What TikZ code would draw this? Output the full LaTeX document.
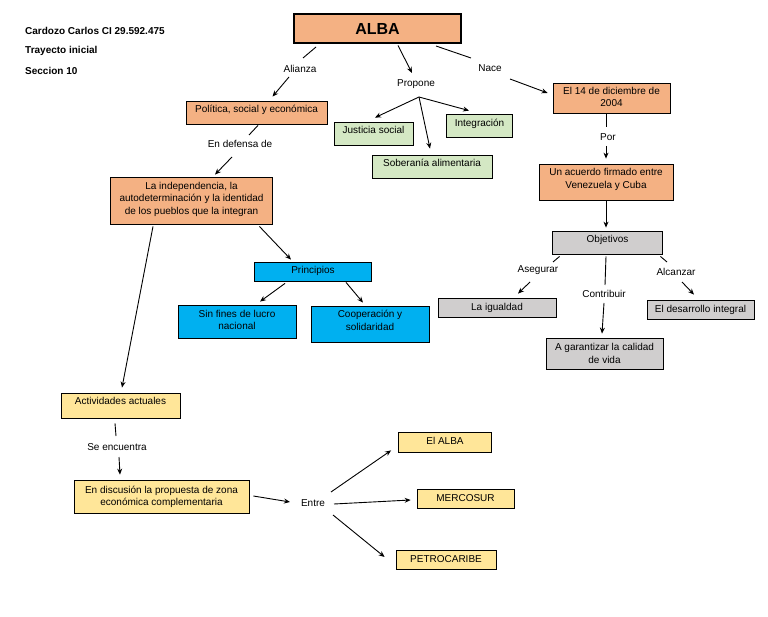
\documentclass[tikz,border=0pt]{standalone}
\usepackage{fontspec}
\setmainfont{Liberation Sans}
\usetikzlibrary{arrows.meta,calc}
\definecolor{corange}{RGB}{244,177,131}
\definecolor{cgreen}{RGB}{212,232,196}
\definecolor{cblue}{RGB}{0,176,240}
\definecolor{cgray}{RGB}{208,206,206}
\definecolor{cyellow}{RGB}{255,230,153}
\begin{document}
\begin{tikzpicture}[x=1pt,y=-1pt,
  box/.style={draw=black, line width=0.8pt, align=center, inner sep=0pt,
    font=\fontsize{10}{12.5}\selectfont},
  ob/.style={box, fill=corange},
  gb/.style={box, fill=cgreen},
  bb/.style={box, fill=cblue},
  yb/.style={box, fill=cyellow},
  gyb/.style={box, fill=cgray},
  lbl/.style={font=\fontsize{10}{12}\selectfont, inner sep=1pt},
  hdr/.style={font=\bfseries\fontsize{10}{12}\selectfont, inner sep=0pt, anchor=west},
  conn/.style={line width=0.9pt, black},
  arr/.style={conn, -{Stealth[length=6pt,width=5pt]}}
]
\useasboundingbox[fill=white] (0,0) rectangle (768,617);

% header
\node[hdr] (h1) at (25,31) {Cardozo Carlos CI 29.592.475};
\node[hdr] (h2) at (25,51) {Trayecto inicial};
\node[hdr] (h3) at (25,71) {Seccion 10};

% boxes
\node[ob, line width=2pt, minimum width=167pt, minimum height=29pt,
  font=\bfseries\fontsize{16}{18}\selectfont, text depth=0pt] (alba) at (377.5,29) {ALBA};
\node[ob, minimum width=141pt, minimum height=23pt, text depth=7.7pt] (pol) at (256.5,112.5) {Política, social y económica};
\node[gb, minimum width=79pt, minimum height=23pt, text depth=7.2pt] (jus) at (373.5,133.5) {Justicia social};
\node[gb, minimum width=66pt, minimum height=23pt, text depth=5.7pt] (integ) at (479.5,125.5) {Integración};
\node[gb, minimum width=120pt, minimum height=23pt, text depth=7.2pt] (sob) at (432,166.5) {Soberanía alimentaria};
\node[ob, minimum width=117pt, minimum height=30pt, text depth=2.7pt] (dic) at (611.5,98) {El 14 de diciembre de\\2004};
\node[ob, minimum width=134pt, minimum height=36pt, text depth=7.7pt] (acu) at (606,182) {Un acuerdo firmado entre\\Venezuela y Cuba};
\node[gyb, minimum width=110pt, minimum height=23pt, text depth=7.7pt] (obj) at (607.5,242.5) {Objetivos};
\node[gyb, minimum width=118pt, minimum height=19pt, text depth=2.7pt] (igu) at (497,308) {La igualdad};
\node[gyb, minimum width=107pt, minimum height=19pt, text depth=0.7pt] (des) at (700.5,309.5) {El desarrollo integral};
\node[gyb, minimum width=117pt, minimum height=31pt, text depth=0.7pt] (gar) at (604.5,353.5) {A garantizar la calidad\\de vida};
\node[ob, minimum width=162pt, minimum height=47pt, text depth=4.7pt] (ind) at (191.5,200.5) {La independencia, la\\autodeterminación y la identidad\\de los pueblos que la integran};
\node[bb, minimum width=117pt, minimum height=19pt, text depth=3.7pt] (pri) at (313,271.5) {Principios};
\node[bb, minimum width=118pt, minimum height=33pt, text depth=3.7pt] (sin) at (237,321.5) {Sin fines de lucro\\nacional};
\node[bb, minimum width=118pt, minimum height=36pt, text depth=7.7pt] (coo) at (370,324) {Cooperación y\\solidaridad};
\node[yb, minimum width=119pt, minimum height=25pt, text depth=9.7pt] (act) at (120.5,405.5) {Actividades actuales};
\node[yb, minimum width=175pt, minimum height=33pt, text depth=1.7pt] (dis) at (161.5,496.5) {En discusión la propuesta de zona\\económica complementaria};
\node[yb, minimum width=93pt, minimum height=20pt, text depth=2.7pt] (ealba) at (445,442) {El ALBA};
\node[yb, minimum width=97pt, minimum height=19pt, text depth=1.7pt] (mer) at (465.5,498.5) {MERCOSUR};
\node[yb, minimum width=100pt, minimum height=19pt, text depth=2.7pt] (pet) at (446,560) {PETROCARIBE};

% labels
\node[lbl] (lAli) at (300,69) {Alianza};
\node[lbl] (lPro) at (416,84) {Propone};
\node[lbl] (lNace) at (490,68) {Nace};
\node[lbl] (lDef) at (240,144) {En defensa de};
\node[lbl] (lPor) at (608,137) {Por};
\node[lbl] (lAse) at (538,270) {Asegurar};
\node[lbl] (lCon) at (604,294) {Contribuir};
\node[lbl] (lAlc) at (676,272) {Alcanzar};
\node[lbl] (lSe) at (117,447) {Se encuentra};
\node[lbl] (lEnt) at (313,503) {Entre};
\coordinate (pp) at ($(lPro)+(3,13)$);

% connectors
\draw[conn] ($(alba.south)+(-61.5,2.5)$) -- ($(lAli)+(3,-11)$);
\draw[arr] ($(lAli)+(-11,8)$) -- ($(pol.north)+(16,-4)$);
\draw[arr] ($(alba.south)+(20.5,1)$) -- ($(lPro)+(-4,-11)$);
\draw[arr] (pp) -- ($(jus.north)+(1.5,-4)$);
\draw[arr] (pp) -- ($(sob.north)+(-2,-6)$);
\draw[arr] (pp) -- ($(integ.north)+(-10.5,-3)$);
\draw[conn] ($(alba.south east)+(-26,1.5)$) -- ($(lNace)+(-19,-10)$);
\draw[arr] ($(lNace)+(20,11)$) -- ($(dic.west)+(-5,-5)$);
\draw[conn] ($(dic.south)+(-5.5,1)$) -- ($(lPor)+(-2,-10)$);
\draw[arr] ($(lPor)+(-2,9)$) -- ($(acu.north)+(0,-5)$);
\draw[arr] ($(acu.south)+(0,1)$) -- ($(obj.north)+(-1.5,-3)$);
\draw[conn] ($(obj.south west)+(7.5,2)$) -- ($(lAse)+(15,-8)$);
\draw[arr] ($(lAse)+(-8,12)$) -- ($(igu.north)+(21,-4.5)$);
\draw[conn] ($(obj.south)+(-1.5,2)$) -- ($(lCon)+(1,-9)$);
\draw[arr] ($(lCon)+(0,9)$) -- ($(gar.north)+(-2.5,-4)$);
\draw[conn] ($(obj.south east)+(-2.5,2)$) -- ($(lAlc)+(-9,-10)$);
\draw[arr] ($(lAlc)+(6,10)$) -- ($(des.north)+(-6.5,-5)$);
\draw[conn] ($(pol.south)+(1.5,1)$) -- ($(lDef)+(9,-9)$);
\draw[arr] ($(lDef)+(-8,13)$) -- ($(ind.north)+(23.5,-2)$);
\draw[arr] ($(ind.south)+(-38.5,2)$) -- ($(act.north)+(1.5,-5)$);
\draw[arr] ($(ind.south east)+(-13.5,2)$) -- ($(pri.north)+(-22,-2)$);
\draw[arr] ($(pri.south)+(-28,2)$) -- ($(sin.north)+(23,-3)$);
\draw[arr] ($(pri.south)+(33,1)$) -- ($(coo.north)+(-7,-3)$);
\draw[conn] ($(act.south)+(-5.5,5)$) -- ($(lSe)+(-1,-11)$);
\draw[arr] ($(lSe)+(2,10)$) -- ($(dis.north)+(-41.5,-5)$);
\draw[arr] ($(dis.east)+(4,-0.5)$) -- ($(lEnt)+(-23,-1)$);
\draw[arr] ($(lEnt)+(18,-11)$) -- ($(ealba.south west)+(-7,-2)$);
\draw[arr] ($(lEnt)+(21,1)$) -- ($(mer.west)+(-6,1.5)$);
\draw[arr] ($(lEnt)+(20,12)$) -- ($(pet.west)+(-11,-3)$);
\end{tikzpicture}
\end{document}
